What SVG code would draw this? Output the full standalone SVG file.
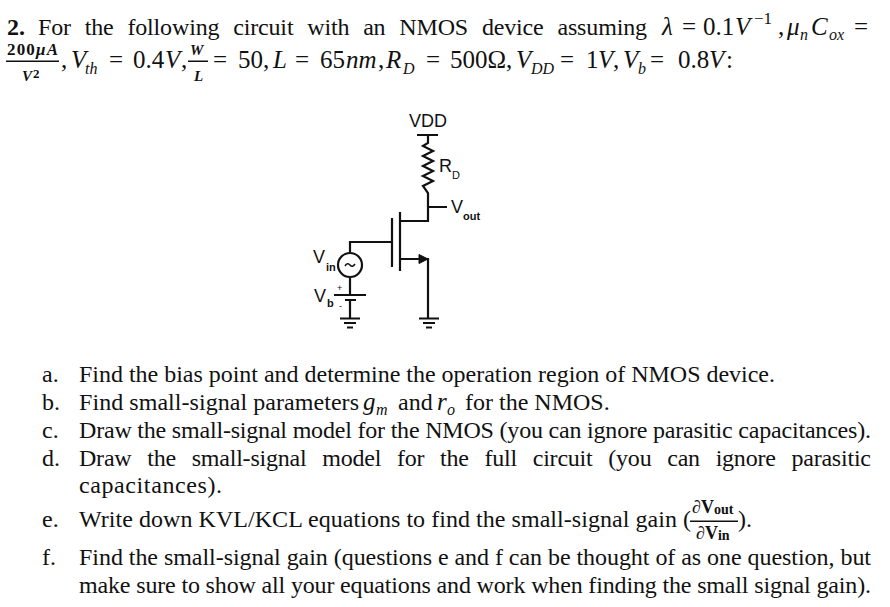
<svg xmlns="http://www.w3.org/2000/svg" width="890" height="607" viewBox="0 0 890 607">
<style>
text{font-family:"Liberation Serif","Times New Roman",serif;font-size:24px;fill:#111}
.h{font-size:25px}
.m{font-style:italic;font-size:25px}
.s{font-style:italic;font-size:16px}
.t{font-style:italic;font-size:15px;font-weight:bold}
.c{font-family:"Liberation Sans",Arial,sans-serif;fill:#111;font-size:18px}
.u{font-family:"Liberation Sans",Arial,sans-serif;fill:#111;font-size:11px;font-weight:bold}
.w{fill:none;stroke:#111;stroke-width:2.2}
.f{fill:none;stroke:#111;stroke-width:1.5}
</style>
<rect width="890" height="607" fill="#fff"/>
<g id="question">
<text x="7" y="35" font-weight="bold">2.</text>
<text x="38" y="35" textLength="609" style="word-spacing:8px">For the following circuit with an NMOS device assuming</text>
<text x="662" y="35" class="m">λ</text><text x="682" y="35" class="h">=</text><text x="703" y="35" class="h">0.1</text><text x="735" y="35" class="m">V</text><text x="754" y="24" style="font-size:17px">−1</text><text x="778" y="35" class="h">,</text><text x="787" y="35" class="m">μ</text><text x="800" y="40" class="s">n</text><text x="811" y="35" class="m">C</text><text x="829" y="40" class="s">ox</text><text x="854" y="35" class="h">=</text>
<text x="7" y="55" class="t" style="font-size:17px" textLength="51"><tspan style="font-style:normal">200</tspan>μA</text>
<rect x="6" y="60.500" width="53" height="1.500" fill="#111"/>
<text x="22" y="81" class="t">V</text><text x="33" y="78" style="font-size:13px;font-weight:bold">2</text>
<text x="61" y="68" class="h">,</text><text x="71" y="68" class="m">V</text><text x="85" y="74" class="s">th</text><text x="109" y="68" class="h">=</text><text x="133" y="68" class="h">0.4</text><text x="165" y="68" class="m">V</text><text x="181" y="68" class="h">,</text>
<text x="190" y="55" class="t">W</text><rect x="188" y="60.500" width="20" height="1.500" fill="#111"/><text x="194" y="81" class="t">L</text>
<text x="213" y="68" class="h">=</text><text x="238" y="68" class="h">50,</text><text x="273" y="68" class="m">L</text><text x="295" y="68" class="h">=</text><text x="320" y="68" class="h">65</text><text x="346" y="68" class="m">nm</text><text x="378" y="68" class="h">,</text><text x="386" y="68" class="m">R</text><text x="403" y="74" class="s">D</text><text x="426" y="68" class="h">=</text><text x="450" y="68" class="h">500Ω,</text><text x="516" y="68" class="m">V</text><text x="531" y="74" class="s">DD</text><text x="560" y="68" class="h">=</text><text x="586" y="68" class="h">1</text><text x="598" y="68" class="m">V</text><text x="613" y="68" class="h">,</text><text x="623" y="68" class="m">V</text><text x="638" y="74" class="s">b</text><text x="650" y="68" class="h">=</text><text x="678" y="68" class="h">0.8</text><text x="709" y="68" class="m">V</text><text x="726" y="68" class="h">:</text>
</g>
<g id="connectors">
<path class="w" d="M417 135H438M428 135V143L423 146L433 151L423 156L433 161L423 166L433 171L423 176L433 181L423 186L428 193V221H400M428 207H447"/>
<path class="w" d="M350 252V242H392M392 218V267M400 212V271M400 259H428V318"/>
<path d="M419 254.500L428 259L419 263.500Z" fill="#111" stroke="#111"/>
<path class="w" d="M350 278V295M334 295H366M345 300H356M350 300V318"/>
</g>
<g id="vdd"><text class="c" x="428" y="127" text-anchor="middle">VDD</text></g>
<g id="rd"><text class="c" x="439" y="172">R</text><text class="u" x="452" y="179" style="font-weight:normal">D</text></g>
<g id="vout"><text class="c" x="451" y="213">V</text><text class="u" x="463" y="220">out</text></g>
<g id="vin">
<circle class="w" cx="350" cy="265" r="12"/>
<path class="f" d="M345 266Q347.500 262 350 265T355 264"/>
<text class="c" x="313" y="263">V</text><text class="u" x="326" y="271">in</text>
</g>
<g id="vb">
<text class="c" x="314" y="302">V</text><text class="u" x="327" y="307">b</text>
<text class="c" x="337" y="291" style="font-size:9px">+</text><text class="c" x="339" y="309" style="font-size:9px">-</text>
</g>
<g id="ground1"><path class="w" d="M340 318.500H360M344 323H356M347 327.500H353"/></g>
<g id="ground2"><path class="w" d="M419 318.500H439M423 323H435M426 327.500H432"/></g>
<g id="parts">
<text x="42" y="382">a.</text><text x="79" y="382" textLength="696">Find the bias point and determine the operation region of NMOS device.</text>
<text x="42" y="410">b.</text><text x="79" y="410" textLength="280">Find small-signal parameters</text><text x="363" y="410" class="m">g</text><text x="376" y="415" class="s">m</text><text x="398" y="410">and</text><text x="437" y="410" class="m">r</text><text x="447" y="415" class="s">o</text><text x="465" y="410">for the NMOS.</text>
<text x="42" y="438">c.</text><text x="79" y="438" textLength="792">Draw the small-signal model for the NMOS (you can ignore parasitic capacitances).</text>
<text x="42" y="466">d.</text><text x="79" y="466" textLength="792" style="word-spacing:10px">Draw the small-signal model for the full circuit (you can ignore parasitic</text>
<text x="79" y="493" textLength="143">capacitances).</text>
<text x="42" y="527">e.</text><text x="79" y="527" textLength="612">Write down KVL/KCL equations to find the small-signal gain (</text>
<text x="692" y="513" style="font-size:18px;font-weight:bold"><tspan font-style="italic">∂</tspan>V<tspan style="font-size:14px" dy="1">out</tspan></text>
<rect x="690" y="520.500" width="48" height="1.500" fill="#111"/>
<text x="696" y="539" style="font-size:18px;font-weight:bold"><tspan font-style="italic">∂</tspan>V<tspan style="font-size:14px" dy="1">in</tspan></text>
<text x="738" y="527">).</text>
<text x="42" y="565">f.</text><text x="79" y="565" textLength="792">Find the small-signal gain (questions e and f can be thought of as one question, but</text>
<text x="79" y="593" textLength="792">make sure to show all your equations and work when finding the small signal gain).</text>
</g>
</svg>
